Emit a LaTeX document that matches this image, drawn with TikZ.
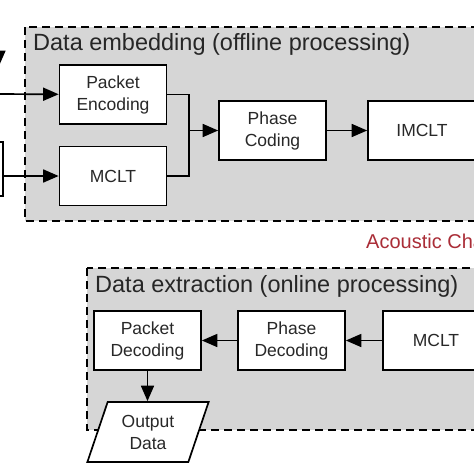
\documentclass[tikz,border=0pt]{standalone}
\usepackage{fontspec}
\setmainfont{Liberation Sans}
\usetikzlibrary{arrows.meta,shapes.geometric}
\definecolor{boxgray}{RGB}{214,214,214}
\definecolor{txtgray}{RGB}{40,40,40}
\definecolor{channelred}{RGB}{170,45,55}
\begin{document}
\begin{tikzpicture}[x=1pt,y=-1pt,
    block/.style={draw, line width=1.7pt, fill=white, minimum width=107pt, minimum height=59pt,
      inner sep=0pt, align=center, text=txtgray, font=\fontsize{17.5}{22}\selectfont},
    stage/.style={draw, line width=1.6pt, dash pattern=on 8pt off 5pt, fill=boxgray},
    title/.style={anchor=base west, inner sep=0pt, text=black!85, font=\fontsize{23.5}{28}\selectfont},
    flow/.style={line width=1.7pt, -{Triangle[length=15.5pt,width=13pt]}}]
  \useasboundingbox (0,0) rectangle (474,474);
  \clip (0,0) rectangle (474,474);
  \fill[white] (0,0) rectangle (474,474);

  % data embedding
  \draw[stage] (25,27) rectangle (500,221);
  \node[title] (EmbedTitle) at (33,50) {Data embedding (offline processing)};
  \node[block] (PacketEnc) at (113,94.5) {Packet\\Encoding};
  \node[block] (MCLTEnc) at (113,176) {MCLT};
  \node[block] (PhaseCod) at (272.5,130.5) {Phase\\Coding};
  \node[block, minimum width=108pt] (IMCLT) at (422,130.5) {IMCLT};
  \node[block, minimum width=86pt, minimum height=54pt] (InBox) at (-40,169) {};
  \coordinate (InData) at (-10,94);
  \coordinate (TopIn) at (-1,30);
  \coordinate (TopTip) at (-1,66);
  \coordinate (Merge) at (189,130.5);
  \draw[flow] (TopIn) -- (TopTip);
  \draw[flow] (InData) -- (PacketEnc);
  \draw[flow] (InBox.east |- MCLTEnc.west) -- (MCLTEnc);
  \draw[line width=1.7pt] (PacketEnc.east) -| (Merge) |- (MCLTEnc.east);
  \draw[flow] (Merge) -- (PhaseCod);
  \draw[flow] (PhaseCod) -- (IMCLT);

  \node[anchor=base west, inner sep=0pt, text=channelred, font=\fontsize{20}{24}\selectfont]
    (Channel) at (366,248.7) {Acoustic Channel};

  % data extraction
  \draw[stage] (87,268) rectangle (500,430);
  \node[title] (ExtractTitle) at (95,292.5) {Data extraction (online processing)};
  \node[block] (PacketDec) at (147.5,340.5) {Packet\\Decoding};
  \node[block] (PhaseDec) at (291.5,340.5) {Phase\\Decoding};
  \node[block, minimum width=106pt] (MCLTDec) at (436,340.5) {MCLT};
  \node[block, trapezium, trapezium left angle=69, trapezium right angle=111,
    trapezium stretches=true, minimum width=122pt, minimum height=60pt] (OutData) at (148,432) {Output\\Data};
  \draw[flow] (MCLTDec) -- (PhaseDec);
  \draw[flow] (PhaseDec) -- (PacketDec);
  \draw[flow] (PacketDec.south) -- (PacketDec.south |- OutData.north);
\end{tikzpicture}
\end{document}
